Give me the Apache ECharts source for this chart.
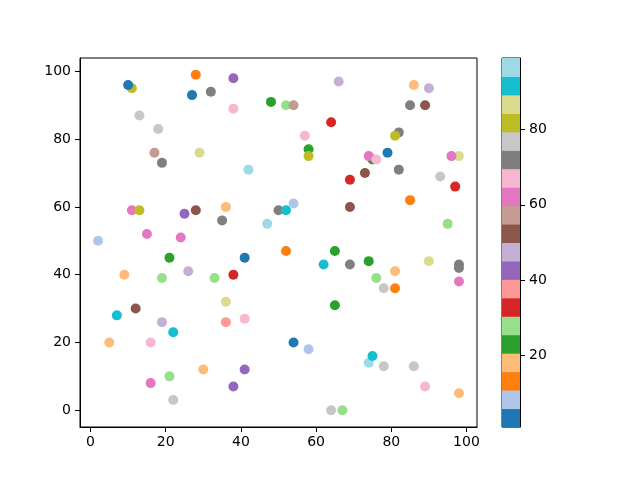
<!DOCTYPE html>
<html>
<head>
<meta charset="utf-8">
<script src="https://cdn.jsdelivr.net/npm/echarts@6.0.0/dist/echarts.min.js"></script>
<style>
  html, body { margin: 0; padding: 0; background: #fff; }
  #chart { width: 640px; height: 480px; }
</style>
</head>
<body>
<div id="chart"></div>
<script>
  // scatter points: x, y and colour value
  const xs = [11, 10, 28, 38, 27, 32, 48, 38, 13, 18, 17, 29, 19, 42, 52, 54, 66, 86, 90, 85,
              89, 64, 57, 82, 81, 58, 58, 75, 74, 76, 79, 98, 96, 73, 82, 93, 69, 97, 11, 13,
              25, 28, 36, 35, 50, 54, 52, 47, 15, 24, 2, 21, 41, 9, 19, 26, 33, 38, 36, 12,
              69, 85, 95, 52, 65, 62, 69, 74, 76, 81, 78, 81, 90, 98, 98, 98, 65, 7, 19, 22,
              36, 41, 5, 16, 30, 41, 21, 16, 38, 22, 54, 58, 74, 75, 78, 86, 89, 98, 64, 67];
  const ys = [95, 96, 99, 98, 93, 94, 91, 89, 87, 83, 76, 76, 73, 71, 90, 90, 97, 96, 95, 90,
              90, 85, 81, 82, 81, 77, 75, 74, 75, 74, 76, 75, 75, 70, 71, 69, 68, 66, 59, 59,
              58, 59, 60, 56, 59, 61, 59, 55, 52, 51, 50, 45, 45, 40, 39, 41, 39, 40, 32, 30,
              60, 62, 55, 47, 47, 43, 43, 44, 39, 41, 36, 36, 44, 43, 42, 38, 31, 28, 26, 23,
              26, 27, 20, 20, 12, 12, 10, 8, 7, 3, 20, 18, 14, 16, 13, 13, 7, 5, 0, 0];
  const cs = [82, 3, 13, 43, 3, 72, 23, 67, 77, 77, 57, 87, 72, 97, 28, 57, 48, 18, 48, 72,
              52, 33, 67, 72, 82, 23, 82, 23, 62, 67, 3, 87, 62, 52, 72, 77, 33, 33, 62, 82,
              43, 52, 18, 72, 72, 8, 92, 97, 62, 62, 8, 23, 3, 18, 28, 48, 28, 33, 87, 52,
              52, 13, 28, 13, 23, 92, 72, 23, 28, 18, 77, 13, 87, 72, 72, 62, 23, 92, 48, 92,
              38, 67, 18, 67, 18, 43, 28, 62, 43, 77, 3, 8, 97, 92, 77, 77, 67, 18, 77, 28];

  // colour bar limits and ticks
  const cMin = 1;
  const cMax = 99;
  const xTicks = [0, 20, 40, 60, 80, 100];
  const yTicks = [0, 20, 40, 60, 80, 100];
  const cTicks = [20, 40, 60, 80];

  // tab20
  const tab20 = ['#1f77b4', '#aec7e8', '#ff7f0e', '#ffbb78', '#2ca02c', '#98df8a', '#d62728', '#ff9896',
                 '#9467bd', '#c5b0d5', '#8c564b', '#c49c94', '#e377c2', '#f7b6d2', '#7f7f7f', '#c7c7c7',
                 '#bcbd22', '#dbdb8d', '#17becf', '#9edae5'];

  const step = (cMax - cMin) / tab20.length;
  const bands = tab20.map(function (col, i) {
    return [cMin + i * step, cMin + (i + 1) * step, i];
  });
  const pieces = bands.map(function (b) {
    return { gte: b[0], lt: b[1], color: tab20[b[2]] };
  });
  pieces[pieces.length - 1].lte = cMax;
  delete pieces[pieces.length - 1].lt;

  const points = xs.map(function (x, i) { return [x, ys[i], cs[i]]; });

  const font = 'DejaVu Sans';
  const tickStyle = { show: true, length: 5, lineStyle: { color: '#000', width: 1 } };
  const lineStyle = { show: true, onZero: false, lineStyle: { color: '#000', width: 1 } };

  const chart = echarts.init(document.getElementById('chart'), null, { renderer: 'canvas' });
  chart.setOption({
    backgroundColor: '#fff',
    animation: false,
    grid: [
      { left: 80, top: 58, width: 397, height: 369, show: true, borderColor: '#000', borderWidth: 1, backgroundColor: 'transparent' },
      { left: 502, top: 58, width: 18, height: 369, show: true, borderColor: '#000', borderWidth: 1, backgroundColor: 'transparent' }
    ],
    xAxis: [
      {
        gridIndex: 0, type: 'value', min: -2.8, max: 102.8,
        axisLine: lineStyle,
        axisTick: Object.assign({ customValues: xTicks }, tickStyle),
        axisLabel: { customValues: xTicks, color: '#000', fontSize: 14, fontFamily: font, margin: 8 },
        splitLine: { show: false }
      },
      {
        gridIndex: 1, type: 'value', min: 0, max: 1, show: false
      }
    ],
    yAxis: [
      {
        gridIndex: 0, type: 'value', min: -4.95, max: 103.95,
        axisLine: lineStyle,
        axisTick: Object.assign({ customValues: yTicks }, tickStyle),
        axisLabel: { customValues: yTicks, color: '#000', fontSize: 14, fontFamily: font, margin: 9 },
        splitLine: { show: false }
      },
      {
        gridIndex: 1, type: 'value', min: cMin, max: cMax, position: 'right',
        axisLine: lineStyle,
        axisTick: Object.assign({ customValues: cTicks }, tickStyle),
        axisLabel: { customValues: cTicks, color: '#000', fontSize: 14, fontFamily: font, margin: 9 },
        splitLine: { show: false }
      }
    ],
    visualMap: {
      type: 'piecewise',
      show: false,
      dimension: 2,
      seriesIndex: 0,
      pieces: pieces
    },
    series: [
      {
        type: 'scatter',
        xAxisIndex: 0,
        yAxisIndex: 0,
        symbolSize: 10,
        itemStyle: { opacity: 1 },
        data: points
      },
      {
        type: 'custom',
        xAxisIndex: 1,
        yAxisIndex: 1,
        data: bands,
        renderItem: function (params, api) {
          const p0 = api.coord([0, api.value(0)]);
          const p1 = api.coord([1, api.value(1)]);
          return {
            type: 'rect',
            shape: { x: p0[0], y: p1[1], width: p1[0] - p0[0], height: p0[1] - p1[1] + 0.5 },
            style: { fill: tab20[api.value(2)] }
          };
        }
      }
    ]
  });
</script>
</body>
</html>
